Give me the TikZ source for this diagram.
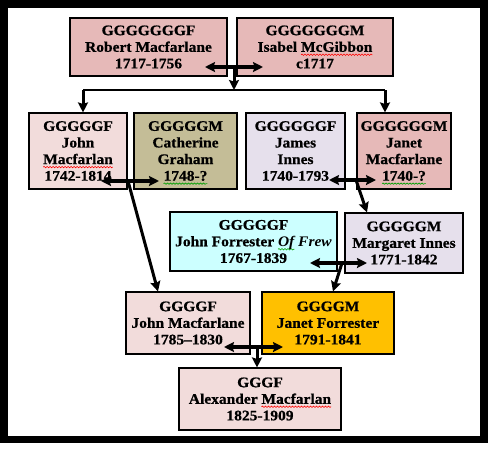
\documentclass[tikz,border=0pt]{standalone}
\usepackage{fontspec}
\setmainfont{Liberation Serif}[FakeStretch=1.06,BoldFeatures={FakeBold=0.7}]
\usetikzlibrary{arrows.meta,decorations.pathmorphing}
\newsavebox\squigbox
\newlength\squiglen
\newcommand\squig[2]{\sbox\squigbox{#2}\setlength\squiglen{\wd\squigbox}\leavevmode\rlap{\tikz[overlay,baseline=0pt,x=1pt,y=1pt]\draw[#1,line width=0.6pt,decorate,decoration={snake,amplitude=0.7pt,segment length=3pt}] (0pt,-3pt) -- (\squiglen,-3pt);}\usebox\squigbox}
\definecolor{cpink}{HTML}{E6B9B8}
\definecolor{clpink}{HTML}{F2DCDB}
\definecolor{colive}{HTML}{C4BD97}
\definecolor{clav}{HTML}{E6E0EC}
\definecolor{ccyan}{HTML}{CCFFFF}
\definecolor{cgold}{HTML}{FFC000}
\definecolor{sqred}{HTML}{FF0000}
\definecolor{sqgreen}{HTML}{00A000}
\tikzset{
  person/.style={draw=black, line width=1.1pt, inner sep=0pt, align=center,
    font=\bfseries\fontsize{14.6}{16.6}\selectfont},
  tip/.style={-{Stealth[length=10pt,width=10pt,inset=1.5pt]}},
  marry/.style={{Stealth[length=10pt,width=10pt,inset=1.5pt]}-{Stealth[length=10pt,width=10pt,inset=1.5pt]}, line width=3.2pt},
  child/.style={tip, line width=3pt},
  bar/.style={line width=2.4pt}
}
\begin{document}
\begin{tikzpicture}[x=1pt,y=-1pt]
\useasboundingbox (0,0) rectangle (488,448);
\fill[white] (0,0) rectangle (488,448);
\fill[black] (0,0) rectangle (488,443);
\fill[white] (8,8) rectangle (480,436);

\node[person, fill=cpink, minimum width=157pt, minimum height=58pt] (rob) at (148.5,47) {GGGGGGGF\\Robert Macfarlane\\1717-1756};
\node[person, fill=cpink, minimum width=156pt, minimum height=58pt] (isa) at (315,47) {GGGGGGGM\\Isabel \squig{sqred}{McGibbon}\\c1717};

\node[person, fill=clpink, minimum width=98pt, minimum height=76pt] (john1) at (78,151) {GGGGGF\\John\\\squig{sqred}{Macfarlan}\\1742-1814};
\node[person, fill=colive, minimum width=103pt, minimum height=76pt] (cath) at (185.5,151) {GGGGGM\\Catherine\\Graham\\\squig{sqgreen}{1748-?}};
\node[person, fill=clav, minimum width=99pt, minimum height=76pt] (james) at (295.5,151) {GGGGGGF\\James\\Innes\\1740-1793};
\node[person, fill=cpink, minimum width=94pt, minimum height=76pt] (janet1) at (404,151) {GGGGGGM\\Janet\\Macfarlane\\\squig{sqgreen}{1740-?}};

\node[person, fill=ccyan, minimum width=167pt, minimum height=59pt] (jforr) at (253.5,241.5) {GGGGGF\\John Forrester \textit{\squig{sqgreen}{Of} Frew}\\1767-1839};
\node[person, fill=clav, minimum width=118pt, minimum height=60pt] (marg) at (404,243) {GGGGGM\\Margaret Innes\\1771-1842};

\node[person, fill=clpink, minimum width=124pt, minimum height=62pt] (john2) at (188,323) {GGGGF\\John Macfarlane\\1785--1830};
\node[person, fill=cgold, minimum width=132pt, minimum height=62pt] (janetf) at (328,323) {GGGGM\\Janet Forrester\\1791-1841};

\node[person, fill=clpink, minimum width=162pt, minimum height=62pt] (alex) at (260,399) {GGGF\\Alexander \squig{sqred}{Macfarlan}\\1825-1909};

% top couple
\coordinate (m1l) at (205,67);
\coordinate (m1r) at (263,67);
\coordinate (m1c) at (234,67);
\coordinate (bus) at (234,90);
\coordinate (busl) at (83,90);
\coordinate (busr) at (385,90);
\draw[marry] (m1l) -- (m1r);
\draw[child] (m1c) -- (bus);
\draw[bar] (busl) -- (busr);
\draw[child] (busl) -- (busl |- john1.north);
\draw[child] (busr) -- (busr |- janet1.north);

% John + Catherine
\coordinate (m2l) at (101,181);
\coordinate (m2r) at (159,181);
\coordinate (m2c) at (128,181);
\draw[marry] (m2l) -- (m2r);
\draw[child] (m2c) -- ([xshift=-30pt]john2.north);

% James + Janet
\coordinate (m3l) at (329,180);
\coordinate (m3r) at (376,180);
\coordinate (m3c) at (356,180);
\draw[marry] (m3l) -- (m3r);
\draw[child] (m3c) -- ([xshift=-37pt]marg.north);

% John Forrester + Margaret
\coordinate (m4l) at (310,263);
\coordinate (m4r) at (367,263);
\coordinate (m4c) at (342,263);
\draw[marry] (m4l) -- (m4r);
\draw[child] (m4c) -- ([xshift=5pt]janetf.north);

% John + Janet Forrester
\coordinate (m5l) at (224,347);
\coordinate (m5r) at (283,347);
\coordinate (m5c) at (257,347);
\draw[marry] (m5l) -- (m5r);
\draw[child] (m5c) -- (m5c |- alex.north);
\end{tikzpicture}
\end{document}
